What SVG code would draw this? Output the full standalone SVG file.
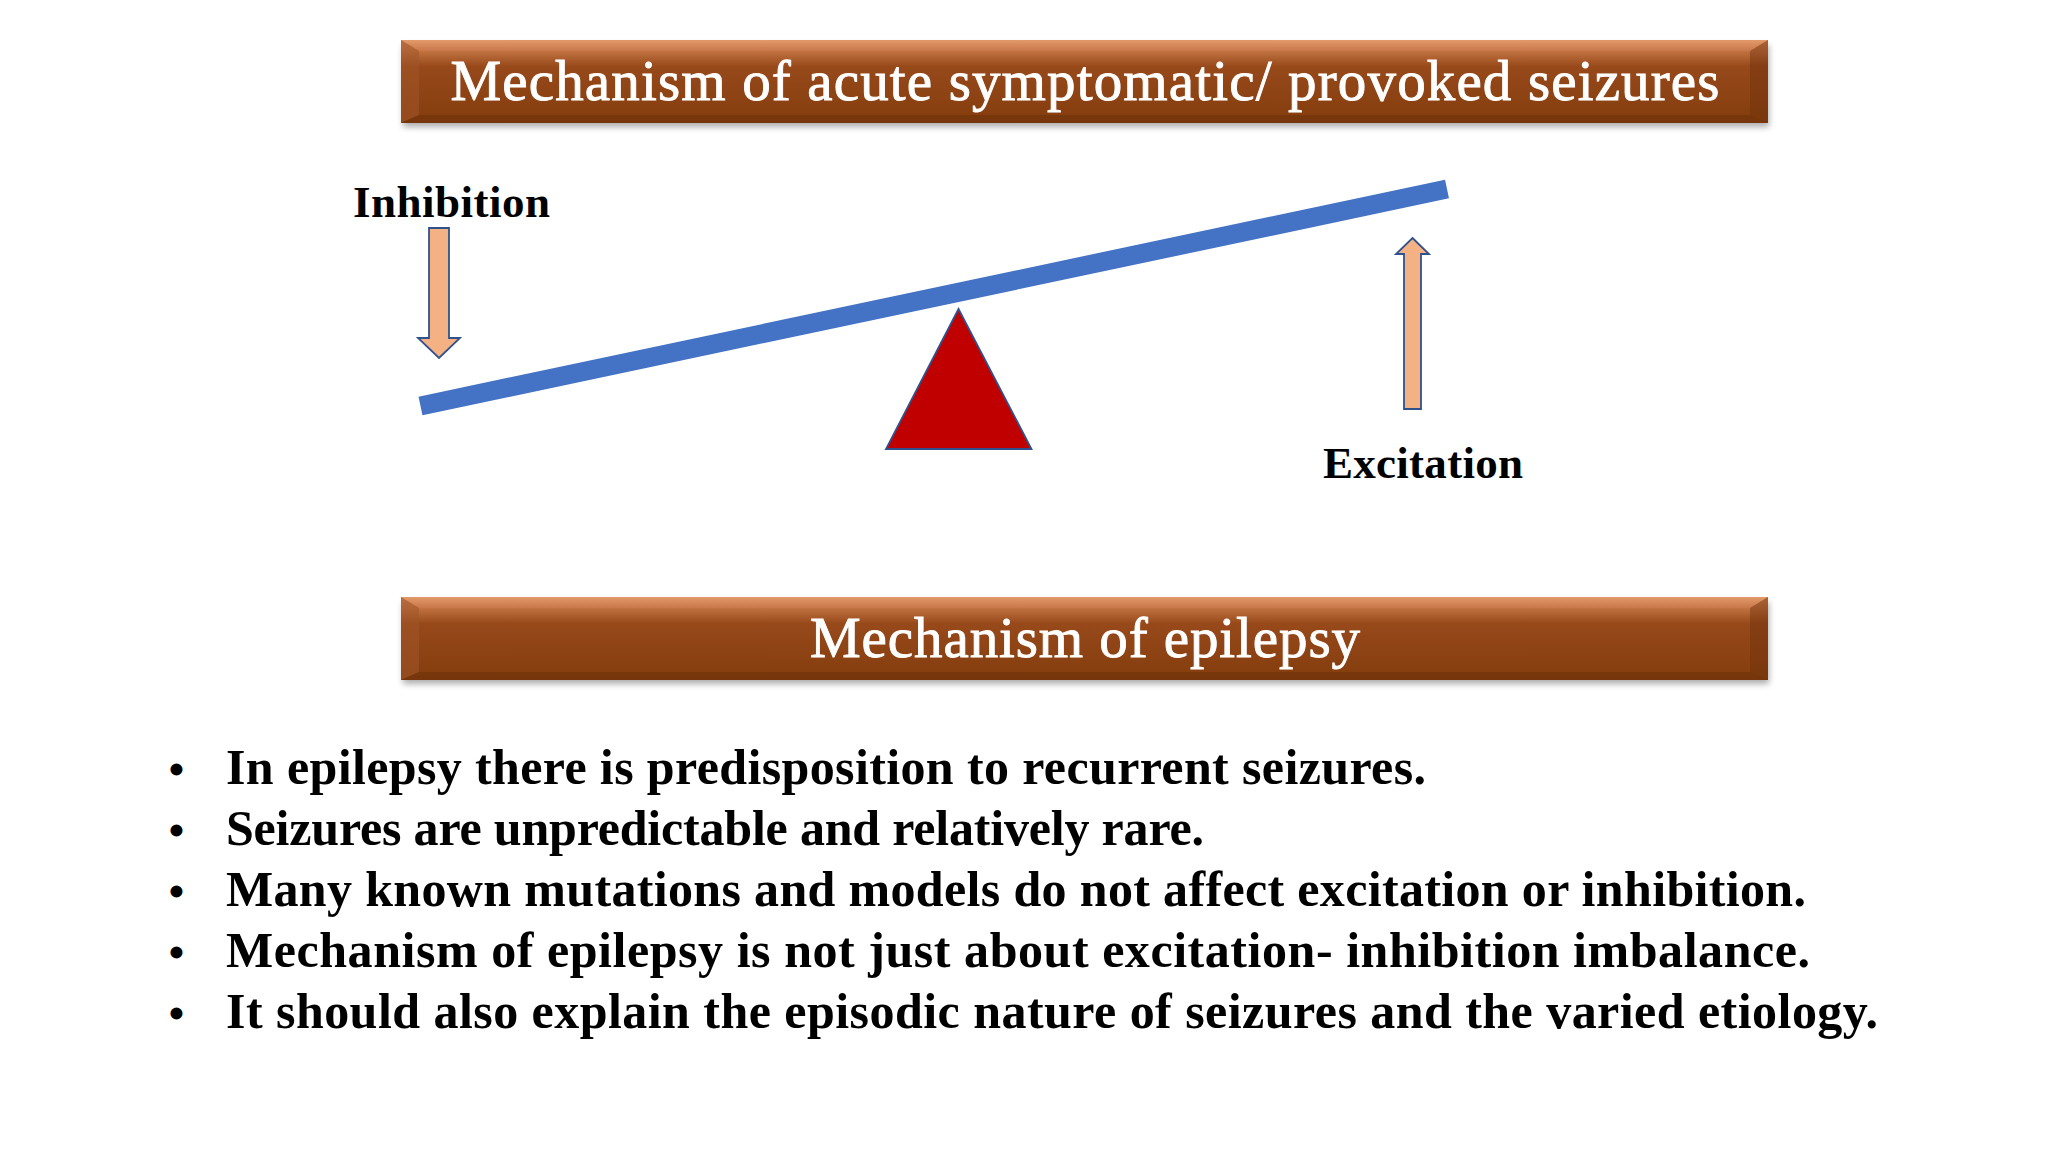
<svg xmlns="http://www.w3.org/2000/svg" width="2048" height="1152" viewBox="0 0 2048 1152">
  <defs>
    <linearGradient id="barBody" x1="0" y1="0" x2="0" y2="1">
      <stop offset="0" stop-color="#D98A58"/>
      <stop offset="0.14" stop-color="#C0713F"/>
      <stop offset="0.32" stop-color="#97491A"/>
      <stop offset="1" stop-color="#843D0E"/>
    </linearGradient>
    <linearGradient id="topBevel" x1="0" y1="0" x2="0" y2="1">
      <stop offset="0" stop-color="#E39A6B"/>
      <stop offset="1" stop-color="#C8774A"/>
    </linearGradient>
    <filter id="shadow" x="-5%" y="-30%" width="110%" height="160%">
      <feGaussianBlur stdDeviation="3"/>
    </filter>
    <style>
      .shadow { fill: #000; opacity: 0.32; filter: url(#shadow); }
      .body { fill: url(#barBody); }
      .bevTop { fill: url(#topBevel); }
      .bevLeft { fill: #A0552A; opacity: 0.55; }
      .bevRight { fill: #6E300A; opacity: 0.45; }
      .bevBottom { fill: #6A2E08; opacity: 0.5; }
      .title { font-family: "Liberation Serif", "DejaVu Serif", serif; font-size: 57px; fill: #FFFFFF; stroke: #FFFFFF; stroke-width: 0.9px; text-anchor: middle; }
      .label { font-family: "Liberation Serif", "DejaVu Serif", serif; font-size: 45px; font-weight: bold; fill: #000; }
      .bullet { font-family: "Liberation Serif", "DejaVu Serif", serif; font-size: 50px; font-weight: bold; fill: #000; }
      .dot { font-family: "Liberation Serif", "DejaVu Serif", serif; font-size: 44px; font-weight: bold; fill: #000; text-anchor: middle; }
      .arrow { fill: #F4B183; stroke: #2F528F; stroke-width: 1.8; stroke-linejoin: miter; }
      .fulcrum { fill: #C00000; stroke: #2F528F; stroke-width: 1.8; }
      .beam { stroke: #4472C4; stroke-width: 19; fill: none; stroke-linecap: butt; }
    </style>
  </defs>

  <rect width="2048" height="1152" fill="#FFFFFF"/>

  <g id="title-acute">
    <rect class="shadow" x="403" y="45" width="1366" height="82"/>
    <rect class="body" x="401" y="40" width="1367" height="83"/>
    <polygon class="bevTop" points="401,40 1768,40 1750,51 419,51"/>
    <polygon class="bevLeft" points="401,40 419,51 419,115 401,123"/>
    <polygon class="bevRight" points="1768,40 1750,51 1750,115 1768,123"/>
    <polygon class="bevBottom" points="401,123 419,115 1750,115 1768,123"/>
    <text class="title" x="1085" y="100" textLength="1269">Mechanism of acute symptomatic/ provoked seizures</text>
  </g>

  <g id="seesaw">
    <line class="beam" x1="420.5" y1="406" x2="1447" y2="189"/>
  </g>

  <g id="fulcrum">
    <polygon class="fulcrum" points="958.5,309 1031.5,449 886,449"/>
  </g>

  <g id="inhibition">
    <text class="label" x="353" y="217" textLength="197">Inhibition</text>
    <polygon class="arrow" points="429,228 449,228 449,338 460,338 439,358 418,338 429,338"/>
  </g>

  <g id="excitation">
    <polygon class="arrow" points="1412.5,238 1429,254 1421,254 1421,409 1404,409 1404,254 1396,254"/>
    <text class="label" x="1323" y="478" textLength="200">Excitation</text>
  </g>

  <g id="title-epilepsy">
    <rect class="shadow" x="403" y="602" width="1366" height="82"/>
    <rect class="body" x="401" y="597" width="1367" height="83"/>
    <polygon class="bevTop" points="401,597 1768,597 1750,608 419,608"/>
    <polygon class="bevLeft" points="401,597 419,608 419,672 401,680"/>
    <polygon class="bevRight" points="1768,597 1750,608 1750,672 1768,680"/>
    <polygon class="bevBottom" points="401,680 419,672 1750,672 1768,680"/>
    <text class="title" x="1085" y="657" textLength="550">Mechanism of epilepsy</text>
  </g>

  <g id="bullets">
    <text class="dot" x="176.5" y="784">•</text>
    <text class="bullet" x="226" y="784" textLength="1200">In epilepsy there is predisposition to recurrent seizures.</text>
    <text class="dot" x="176.5" y="845">•</text>
    <text class="bullet" x="226" y="845" textLength="978">Seizures are unpredictable and relatively rare.</text>
    <text class="dot" x="176.5" y="906">•</text>
    <text class="bullet" x="226" y="906" textLength="1580">Many known mutations and models do not affect excitation or inhibition.</text>
    <text class="dot" x="176.5" y="967">•</text>
    <text class="bullet" x="226" y="967" textLength="1584">Mechanism of epilepsy is not just about excitation- inhibition imbalance.</text>
    <text class="dot" x="176.5" y="1028">•</text>
    <text class="bullet" x="226" y="1028" textLength="1652">It should also explain the episodic nature of seizures and the varied etiology.</text>
  </g>
</svg>
